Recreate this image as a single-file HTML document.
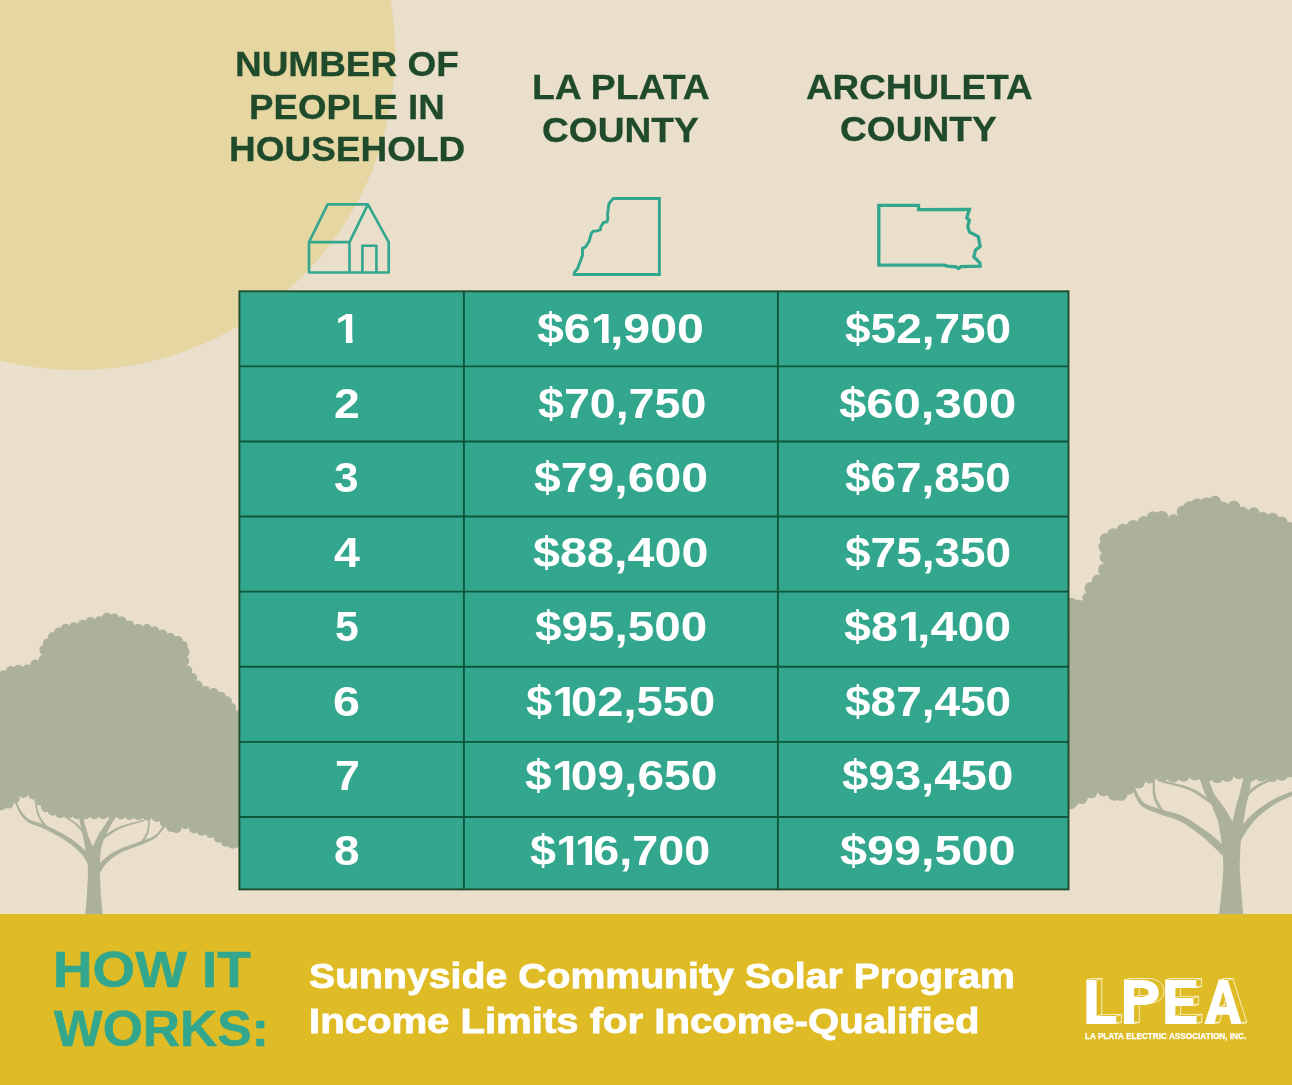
<!DOCTYPE html>
<html><head><meta charset="utf-8"><title>Sunnyside Community Solar Program Income Limits</title>
<style>
html,body{margin:0;padding:0}
body{width:1292px;height:1085px;position:relative;overflow:hidden;background:#e9dfcb;font-family:"Liberation Sans",sans-serif}
svg{position:absolute;left:0;top:0}
.t{position:absolute;font-weight:bold;line-height:1;white-space:pre;transform-origin:0 0;will-change:transform}
.n1{display:inline-block;margin-right:-.158em;clip-path:polygon(0 0,.374em 0,.374em 100%,.2325em 100%,.2325em .715em,0 .715em)}
</style></head><body>
<svg width="1292" height="1085" viewBox="0 0 1292 1085">
<circle cx="77" cy="52" r="318" fill="#e6d6a1"/>
<g fill="#abb19b"><path d="M-4.0,678.2L3.6,675.3L10.7,671.2L18.3,669.8L27.4,669.4L35.4,664.5L43.7,659.6L44.4,650.1L47.9,643.4L52.8,637.2L59.0,632.4L65.8,628.7L74.1,627.3L82.7,624.8L90.6,622.0L99.5,621.3L107.0,617.8L114.2,618.6L121.6,621.4L129.3,625.6L138.0,628.9L146.9,629.0L154.4,631.4L162.4,634.6L170.4,638.0L177.8,641.0L182.7,645.9L184.6,652.1L184.1,660.9L187.2,670.4L192.2,678.0L197.5,685.6L205.1,690.9L213.7,693.1L220.8,696.8L226.9,701.3L231.1,707.9L234.7,715.1L236.2,722.7L236.2,731.0L236.2,739.8L236.2,748.5L236.2,757.3L236.2,766.0L236.2,774.8L236.2,783.5L236.2,792.3L236.2,801.0L236.2,809.8L236.2,818.5L236.2,827.3L236.2,836.0L236.8,842.7L232.5,843.7L226.0,841.7L218.8,837.7L210.8,833.1L201.9,830.7L194.0,828.5L185.1,824.2L176.6,828.1L171.3,827.1L164.9,822.4L156.8,816.9L147.2,815.8L138.4,815.3L129.6,814.9L120.9,814.4L112.0,814.2L103.2,814.2L94.5,814.2L85.7,814.2L77.1,814.2L68.4,813.7L60.2,813.3L52.8,810.7L46.0,807.3L40.8,800.8L33.3,794.4L23.3,792.9L14.8,798.5L8.6,803.6L1.5,805.2L-3.0,805.7L-2.2,799.3L-2.2,790.5L-2.2,781.8L-2.2,773.0L-2.2,764.3L-2.2,755.5L-2.2,746.8L-2.2,738.0L-2.2,729.3L-2.2,720.5L-2.2,711.8L-2.2,703.0L-2.2,694.3L-2.2,685.5L-2.2,676.8Z"/><circle cx="-4.0" cy="678.2" r="5.0"/><circle cx="3.6" cy="675.3" r="5.0"/><circle cx="10.7" cy="671.2" r="5.0"/><circle cx="18.3" cy="669.8" r="5.0"/><circle cx="27.4" cy="669.4" r="5.0"/><circle cx="35.4" cy="664.5" r="5.0"/><circle cx="43.7" cy="659.6" r="5.0"/><circle cx="44.4" cy="650.1" r="5.0"/><circle cx="47.9" cy="643.4" r="5.0"/><circle cx="52.8" cy="637.2" r="5.0"/><circle cx="59.0" cy="632.4" r="5.0"/><circle cx="65.8" cy="628.7" r="5.0"/><circle cx="74.1" cy="627.3" r="5.0"/><circle cx="82.7" cy="624.8" r="5.0"/><circle cx="90.6" cy="622.0" r="5.0"/><circle cx="99.5" cy="621.3" r="5.0"/><circle cx="107.0" cy="617.8" r="5.0"/><circle cx="114.2" cy="618.6" r="5.0"/><circle cx="121.6" cy="621.4" r="5.0"/><circle cx="129.3" cy="625.6" r="5.0"/><circle cx="138.0" cy="628.9" r="5.0"/><circle cx="146.9" cy="629.0" r="5.0"/><circle cx="154.4" cy="631.4" r="5.0"/><circle cx="162.4" cy="634.6" r="5.0"/><circle cx="170.4" cy="638.0" r="5.0"/><circle cx="177.8" cy="641.0" r="5.0"/><circle cx="182.7" cy="645.9" r="5.0"/><circle cx="184.6" cy="652.1" r="5.0"/><circle cx="184.1" cy="660.9" r="5.0"/><circle cx="187.2" cy="670.4" r="5.0"/><circle cx="192.2" cy="678.0" r="5.0"/><circle cx="197.5" cy="685.6" r="5.0"/><circle cx="205.1" cy="690.9" r="5.0"/><circle cx="213.7" cy="693.1" r="5.0"/><circle cx="220.8" cy="696.8" r="5.0"/><circle cx="226.9" cy="701.3" r="5.0"/><circle cx="231.1" cy="707.9" r="5.0"/><circle cx="234.7" cy="715.1" r="5.0"/><circle cx="236.2" cy="722.7" r="5.0"/><circle cx="236.2" cy="731.0" r="5.0"/><circle cx="236.2" cy="739.8" r="5.0"/><circle cx="236.2" cy="748.5" r="5.0"/><circle cx="236.2" cy="757.3" r="5.0"/><circle cx="236.2" cy="766.0" r="5.0"/><circle cx="236.2" cy="774.8" r="5.0"/><circle cx="236.2" cy="783.5" r="5.0"/><circle cx="236.2" cy="792.3" r="5.0"/><circle cx="236.2" cy="801.0" r="5.0"/><circle cx="236.2" cy="809.8" r="5.0"/><circle cx="236.2" cy="818.5" r="5.0"/><circle cx="236.2" cy="827.3" r="5.0"/><circle cx="236.2" cy="836.0" r="5.0"/><circle cx="236.8" cy="842.7" r="5.0"/><circle cx="232.5" cy="843.7" r="5.0"/><circle cx="226.0" cy="841.7" r="5.0"/><circle cx="218.8" cy="837.7" r="5.0"/><circle cx="210.8" cy="833.1" r="5.0"/><circle cx="201.9" cy="830.7" r="5.0"/><circle cx="194.0" cy="828.5" r="5.0"/><circle cx="185.1" cy="824.2" r="5.0"/><circle cx="176.6" cy="828.1" r="5.0"/><circle cx="171.3" cy="827.1" r="5.0"/><circle cx="164.9" cy="822.4" r="5.0"/><circle cx="156.8" cy="816.9" r="5.0"/><circle cx="147.2" cy="815.8" r="5.0"/><circle cx="138.4" cy="815.3" r="5.0"/><circle cx="129.6" cy="814.9" r="5.0"/><circle cx="120.9" cy="814.4" r="5.0"/><circle cx="112.0" cy="814.2" r="5.0"/><circle cx="103.2" cy="814.2" r="5.0"/><circle cx="94.5" cy="814.2" r="5.0"/><circle cx="85.7" cy="814.2" r="5.0"/><circle cx="77.1" cy="814.2" r="5.0"/><circle cx="68.4" cy="813.7" r="5.0"/><circle cx="60.2" cy="813.3" r="5.0"/><circle cx="52.8" cy="810.7" r="5.0"/><circle cx="46.0" cy="807.3" r="5.0"/><circle cx="40.8" cy="800.8" r="5.0"/><circle cx="33.3" cy="794.4" r="5.0"/><circle cx="23.3" cy="792.9" r="5.0"/><circle cx="14.8" cy="798.5" r="5.0"/><circle cx="8.6" cy="803.6" r="5.0"/><circle cx="1.5" cy="805.2" r="5.0"/><circle cx="-3.0" cy="805.7" r="5.0"/><circle cx="-2.2" cy="799.3" r="5.0"/><circle cx="-2.2" cy="790.5" r="5.0"/><circle cx="-2.2" cy="781.8" r="5.0"/><circle cx="-2.2" cy="773.0" r="5.0"/><circle cx="-2.2" cy="764.3" r="5.0"/><circle cx="-2.2" cy="755.5" r="5.0"/><circle cx="-2.2" cy="746.8" r="5.0"/><circle cx="-2.2" cy="738.0" r="5.0"/><circle cx="-2.2" cy="729.3" r="5.0"/><circle cx="-2.2" cy="720.5" r="5.0"/><circle cx="-2.2" cy="711.8" r="5.0"/><circle cx="-2.2" cy="703.0" r="5.0"/><circle cx="-2.2" cy="694.3" r="5.0"/><circle cx="-2.2" cy="685.5" r="5.0"/><circle cx="-2.2" cy="676.8" r="5.0"/><path d="M85.1,915.0L86.6,900.0L88.0,876.0L87.6,862.0L86.5,854.0L84.8,846.0L82.6,834.0L80.2,824.0L78.3,812.0L82.6,812.0L84.8,824.0L88.2,836.0L92.9,846.5L98.2,835.0L105.5,824.0L113.5,812.0L118.5,812.0L110.5,826.0L104.2,838.0L101.2,848.0L100.2,858.0L100.0,876.0L101.2,900.0L102.6,915.0Z"/><path d="M93.6,862.5L93.1,861.8L92.5,860.7L91.8,859.5L91.0,858.0L90.0,856.4L88.8,854.6L87.5,852.9L85.9,851.2L84.3,849.6L82.5,847.9L80.5,846.2L78.5,844.4L76.2,842.6L73.9,840.8L71.5,839.1L68.9,837.4L66.2,835.7L63.3,834.0L60.2,832.4L57.0,830.7L53.9,829.1L50.8,827.6L47.9,826.3L45.3,825.1L42.8,824.1L40.5,823.2L38.3,822.6L36.3,822.0L34.5,821.5L32.8,821.0L31.2,820.4L29.8,819.7L28.5,818.8L27.2,817.9L26.1,817.0L25.1,815.9L24.1,814.8L23.2,813.7L22.3,812.6L21.5,811.4L20.7,810.1L19.9,808.7L19.1,807.1L18.4,805.6L17.7,804.1L17.1,802.7L16.6,801.5L16.2,800.7L14.8,801.3L15.1,802.2L15.5,803.3L16.0,804.8L16.6,806.3L17.2,808.0L17.9,809.6L18.7,811.2L19.5,812.6L20.4,813.9L21.2,815.2L22.1,816.5L23.1,817.7L24.2,818.9L25.4,820.1L26.7,821.2L28.2,822.3L29.9,823.3L31.6,824.0L33.5,824.7L35.3,825.3L37.3,826.0L39.3,826.7L41.5,827.5L43.7,828.5L46.2,829.8L49.0,831.2L52.0,832.8L55.1,834.4L58.1,836.1L61.1,837.8L63.9,839.5L66.5,841.2L68.8,842.9L71.1,844.6L73.2,846.3L75.3,848.1L77.2,849.9L79.0,851.6L80.6,853.2L82.1,854.8L83.3,856.3L84.3,857.8L85.3,859.3L86.1,860.7L86.8,862.1L87.4,863.4L87.9,864.6L88.4,865.5Z"/><path d="M47.5,827.3L46.8,826.4L45.9,825.1L44.8,823.6L43.6,821.9L42.4,820.1L41.2,818.3L40.2,816.4L39.4,814.6L38.7,812.8L38.1,810.6L37.5,808.3L37.1,806.0L36.6,803.8L36.3,801.8L36.0,800.1L35.7,798.9L34.3,799.1L34.5,800.4L34.8,802.1L35.1,804.1L35.4,806.3L35.9,808.7L36.4,811.0L36.9,813.3L37.6,815.4L38.5,817.3L39.5,819.3L40.6,821.2L41.8,823.1L43.0,824.8L44.0,826.4L44.9,827.7L45.5,828.7Z"/><path d="M84.9,832.2L84.3,831.5L83.5,830.6L82.5,829.4L81.4,828.2L80.2,826.9L79.0,825.6L77.8,824.3L76.6,823.3L75.4,822.3L74.1,821.4L72.8,820.6L71.4,819.7L70.2,819.0L69.0,818.4L68.1,817.8L67.4,817.4L66.6,818.6L67.3,819.1L68.2,819.7L69.3,820.4L70.6,821.1L71.8,822.0L73.1,822.9L74.3,823.8L75.4,824.7L76.4,825.7L77.5,826.9L78.6,828.2L79.7,829.6L80.8,830.9L81.7,832.0L82.5,833.0L83.1,833.8Z"/><path d="M103.8,839.2L105.0,838.3L106.6,837.1L108.5,835.7L110.7,834.2L113.0,832.6L115.4,831.1L117.9,829.7L120.4,828.5L123.2,827.4L126.4,826.3L129.8,825.2L133.3,824.2L136.7,823.3L139.7,822.4L142.3,821.7L144.2,821.2L143.8,819.8L141.9,820.3L139.3,820.9L136.2,821.7L132.8,822.5L129.3,823.4L125.8,824.4L122.5,825.5L119.6,826.5L116.9,827.7L114.3,829.1L111.7,830.6L109.3,832.2L107.1,833.6L105.1,835.0L103.5,836.0L102.2,836.8Z"/><path d="M99.2,873.6L99.9,872.7L100.7,871.4L101.6,869.9L102.7,868.3L103.9,866.7L105.1,865.1L106.3,863.6L107.6,862.2L109.0,861.0L110.4,859.7L111.8,858.5L113.3,857.4L115.0,856.2L116.8,855.1L118.7,853.9L120.9,852.8L123.3,851.6L126.1,850.4L129.1,849.2L132.3,848.1L135.4,846.9L138.5,845.8L141.3,844.7L143.8,843.7L145.9,842.8L147.7,842.0L149.4,841.3L151.0,840.6L152.5,839.8L153.9,839.0L155.3,838.1L156.8,836.9L158.2,835.5L159.7,833.8L161.0,832.0L162.4,830.2L163.6,828.4L164.6,826.8L165.5,825.5L166.1,824.5L164.9,823.5L164.1,824.5L163.1,825.8L162.0,827.3L160.7,829.0L159.4,830.8L158.0,832.4L156.6,833.9L155.2,835.1L153.9,836.0L152.6,836.8L151.3,837.4L149.9,838.0L148.4,838.6L146.7,839.2L144.8,839.9L142.6,840.7L140.2,841.6L137.3,842.6L134.3,843.7L131.1,844.7L127.9,845.8L124.7,846.9L121.8,848.1L119.1,849.2L116.8,850.4L114.7,851.5L112.7,852.6L110.9,853.8L109.2,855.0L107.5,856.2L105.9,857.5L104.4,858.8L102.8,860.3L101.3,861.9L99.9,863.6L98.6,865.3L97.4,867.0L96.3,868.4L95.5,869.5L94.8,870.4Z"/><path d="M142.5,843.8L143.0,843.0L143.7,841.8L144.5,840.5L145.4,839.0L146.3,837.3L147.2,835.6L147.9,833.9L148.5,832.3L148.9,830.6L149.2,828.7L149.5,826.8L149.6,824.9L149.7,823.1L149.8,821.4L149.8,820.1L149.9,819.1L148.5,818.9L148.4,820.0L148.3,821.3L148.1,822.9L148.0,824.7L147.7,826.6L147.5,828.4L147.1,830.2L146.7,831.7L146.1,833.2L145.3,834.7L144.5,836.3L143.5,837.9L142.6,839.3L141.7,840.6L141.0,841.7L140.5,842.6Z"/></g>
<g fill="#abb19b"><path d="M1067.2,609.1L1079.0,606.2L1088.8,598.3L1091.0,588.4L1098.2,580.8L1104.5,569.9L1106.1,557.3L1104.9,547.0L1106.2,539.3L1113.4,534.6L1122.9,530.2L1133.2,526.4L1143.9,522.5L1153.1,517.7L1161.9,517.1L1173.8,520.7L1183.1,511.8L1190.0,507.4L1197.4,504.9L1206.7,503.8L1215.0,502.2L1222.7,508.0L1233.8,507.0L1242.3,513.1L1253.6,513.7L1262.8,518.3L1272.7,519.2L1281.4,522.8L1289.1,528.5L1293.0,534.6L1292.8,544.4L1292.8,555.6L1292.8,566.8L1292.8,578.0L1292.8,589.2L1292.8,600.4L1292.8,611.6L1292.8,622.8L1292.8,634.0L1292.8,645.2L1292.8,656.4L1292.8,667.6L1292.8,678.8L1292.8,690.0L1292.8,701.2L1292.8,712.4L1292.8,723.6L1292.8,734.8L1292.8,746.0L1292.8,757.2L1293.0,767.1L1290.3,770.8L1281.8,774.3L1272.2,775.6L1261.4,775.2L1250.7,775.2L1239.1,772.6L1227.4,775.4L1217.2,776.7L1206.8,775.7L1195.2,774.1L1183.7,775.1L1173.2,776.2L1162.1,775.7L1149.8,777.0L1138.6,782.0L1128.6,788.1L1121.0,794.4L1114.1,794.3L1103.6,789.9L1091.1,791.9L1081.4,797.6L1072.3,801.2L1070.4,802.9L1071.2,794.5L1071.2,783.3L1071.2,772.1L1071.2,760.9L1071.2,749.7L1071.2,738.5L1071.2,727.3L1071.2,716.1L1071.2,704.9L1071.2,693.7L1071.2,682.5L1071.2,671.3L1071.2,660.1L1071.2,648.9L1071.2,637.7L1071.2,626.5L1071.2,615.3L1071.2,604.1Z"/><circle cx="1067.2" cy="609.1" r="6.4"/><circle cx="1079.0" cy="606.2" r="6.4"/><circle cx="1088.8" cy="598.3" r="6.4"/><circle cx="1091.0" cy="588.4" r="6.4"/><circle cx="1098.2" cy="580.8" r="6.4"/><circle cx="1104.5" cy="569.9" r="6.4"/><circle cx="1106.1" cy="557.3" r="6.4"/><circle cx="1104.9" cy="547.0" r="6.4"/><circle cx="1106.2" cy="539.3" r="6.4"/><circle cx="1113.4" cy="534.6" r="6.4"/><circle cx="1122.9" cy="530.2" r="6.4"/><circle cx="1133.2" cy="526.4" r="6.4"/><circle cx="1143.9" cy="522.5" r="6.4"/><circle cx="1153.1" cy="517.7" r="6.4"/><circle cx="1161.9" cy="517.1" r="6.4"/><circle cx="1173.8" cy="520.7" r="6.4"/><circle cx="1183.1" cy="511.8" r="6.4"/><circle cx="1190.0" cy="507.4" r="6.4"/><circle cx="1197.4" cy="504.9" r="6.4"/><circle cx="1206.7" cy="503.8" r="6.4"/><circle cx="1215.0" cy="502.2" r="6.4"/><circle cx="1222.7" cy="508.0" r="6.4"/><circle cx="1233.8" cy="507.0" r="6.4"/><circle cx="1242.3" cy="513.1" r="6.4"/><circle cx="1253.6" cy="513.7" r="6.4"/><circle cx="1262.8" cy="518.3" r="6.4"/><circle cx="1272.7" cy="519.2" r="6.4"/><circle cx="1281.4" cy="522.8" r="6.4"/><circle cx="1289.1" cy="528.5" r="6.4"/><circle cx="1293.0" cy="534.6" r="6.4"/><circle cx="1292.8" cy="544.4" r="6.4"/><circle cx="1292.8" cy="555.6" r="6.4"/><circle cx="1292.8" cy="566.8" r="6.4"/><circle cx="1292.8" cy="578.0" r="6.4"/><circle cx="1292.8" cy="589.2" r="6.4"/><circle cx="1292.8" cy="600.4" r="6.4"/><circle cx="1292.8" cy="611.6" r="6.4"/><circle cx="1292.8" cy="622.8" r="6.4"/><circle cx="1292.8" cy="634.0" r="6.4"/><circle cx="1292.8" cy="645.2" r="6.4"/><circle cx="1292.8" cy="656.4" r="6.4"/><circle cx="1292.8" cy="667.6" r="6.4"/><circle cx="1292.8" cy="678.8" r="6.4"/><circle cx="1292.8" cy="690.0" r="6.4"/><circle cx="1292.8" cy="701.2" r="6.4"/><circle cx="1292.8" cy="712.4" r="6.4"/><circle cx="1292.8" cy="723.6" r="6.4"/><circle cx="1292.8" cy="734.8" r="6.4"/><circle cx="1292.8" cy="746.0" r="6.4"/><circle cx="1292.8" cy="757.2" r="6.4"/><circle cx="1293.0" cy="767.1" r="6.4"/><circle cx="1290.3" cy="770.8" r="6.4"/><circle cx="1281.8" cy="774.3" r="6.4"/><circle cx="1272.2" cy="775.6" r="6.4"/><circle cx="1261.4" cy="775.2" r="6.4"/><circle cx="1250.7" cy="775.2" r="6.4"/><circle cx="1239.1" cy="772.6" r="6.4"/><circle cx="1227.4" cy="775.4" r="6.4"/><circle cx="1217.2" cy="776.7" r="6.4"/><circle cx="1206.8" cy="775.7" r="6.4"/><circle cx="1195.2" cy="774.1" r="6.4"/><circle cx="1183.7" cy="775.1" r="6.4"/><circle cx="1173.2" cy="776.2" r="6.4"/><circle cx="1162.1" cy="775.7" r="6.4"/><circle cx="1149.8" cy="777.0" r="6.4"/><circle cx="1138.6" cy="782.0" r="6.4"/><circle cx="1128.6" cy="788.1" r="6.4"/><circle cx="1121.0" cy="794.4" r="6.4"/><circle cx="1114.1" cy="794.3" r="6.4"/><circle cx="1103.6" cy="789.9" r="6.4"/><circle cx="1091.1" cy="791.9" r="6.4"/><circle cx="1081.4" cy="797.6" r="6.4"/><circle cx="1072.3" cy="801.2" r="6.4"/><circle cx="1070.4" cy="802.9" r="6.4"/><circle cx="1071.2" cy="794.5" r="6.4"/><circle cx="1071.2" cy="783.3" r="6.4"/><circle cx="1071.2" cy="772.1" r="6.4"/><circle cx="1071.2" cy="760.9" r="6.4"/><circle cx="1071.2" cy="749.7" r="6.4"/><circle cx="1071.2" cy="738.5" r="6.4"/><circle cx="1071.2" cy="727.3" r="6.4"/><circle cx="1071.2" cy="716.1" r="6.4"/><circle cx="1071.2" cy="704.9" r="6.4"/><circle cx="1071.2" cy="693.7" r="6.4"/><circle cx="1071.2" cy="682.5" r="6.4"/><circle cx="1071.2" cy="671.3" r="6.4"/><circle cx="1071.2" cy="660.1" r="6.4"/><circle cx="1071.2" cy="648.9" r="6.4"/><circle cx="1071.2" cy="637.7" r="6.4"/><circle cx="1071.2" cy="626.5" r="6.4"/><circle cx="1071.2" cy="615.3" r="6.4"/><circle cx="1071.2" cy="604.1" r="6.4"/><path d="M1218.9,915.0L1220.7,900.0L1222.6,880.0L1223.4,866.0L1222.6,852.0L1221.0,838.0L1218.0,821.0L1210.8,802.8L1205.0,793.9L1198.0,774.0L1206.4,774.0L1214.0,793.9L1220.7,802.8L1226.5,811.0L1232.4,821.5L1235.0,811.0L1236.9,802.8L1239.6,793.9L1244.4,774.0L1252.4,774.0L1249.0,793.9L1246.7,802.8L1243.6,821.0L1240.8,840.0L1239.6,866.0L1240.4,880.0L1241.9,900.0L1243.2,915.0Z"/><path d="M1230.9,851.9L1229.8,850.9L1228.2,849.5L1226.4,847.9L1224.4,846.1L1222.3,844.2L1220.2,842.4L1218.3,840.6L1216.6,839.2L1215.1,838.0L1213.9,836.9L1212.8,836.0L1211.7,835.1L1210.5,834.1L1209.1,833.1L1207.6,832.0L1205.7,830.7L1203.5,829.1L1201.0,827.4L1198.3,825.5L1195.4,823.5L1192.4,821.5L1189.4,819.6L1186.4,817.9L1183.4,816.4L1180.5,815.1L1177.6,814.0L1174.6,813.1L1171.8,812.3L1169.0,811.5L1166.3,810.9L1163.8,810.2L1161.4,809.4L1159.0,808.7L1156.7,808.0L1154.5,807.3L1152.4,806.6L1150.4,806.0L1148.6,805.3L1147.0,804.6L1145.5,803.8L1144.3,802.9L1143.3,802.0L1142.3,801.1L1141.5,800.0L1140.7,798.9L1140.0,797.8L1139.2,796.5L1138.4,795.2L1137.7,793.9L1137.0,792.3L1136.3,790.6L1135.6,788.9L1135.0,787.3L1134.5,785.8L1134.0,784.5L1133.6,783.6L1131.4,784.4L1131.6,785.3L1132.0,786.6L1132.4,788.2L1132.9,789.9L1133.5,791.7L1134.1,793.5L1134.8,795.2L1135.6,796.8L1136.2,798.1L1136.9,799.5L1137.6,800.8L1138.5,802.2L1139.4,803.5L1140.5,804.8L1141.8,806.0L1143.3,807.2L1145.0,808.3L1146.8,809.3L1148.8,810.1L1150.9,811.0L1153.0,811.7L1155.2,812.5L1157.5,813.3L1159.8,814.2L1162.3,815.1L1164.9,815.9L1167.5,816.7L1170.2,817.5L1173.0,818.4L1175.6,819.3L1178.2,820.4L1180.8,821.6L1183.4,823.1L1186.1,824.8L1189.0,826.7L1191.8,828.7L1194.6,830.7L1197.2,832.7L1199.6,834.5L1201.7,836.1L1203.4,837.5L1204.8,838.6L1206.0,839.6L1207.0,840.5L1207.9,841.4L1208.9,842.4L1210.1,843.5L1211.4,844.8L1213.1,846.4L1214.9,848.1L1216.9,850.0L1218.9,852.0L1220.8,853.9L1222.6,855.6L1224.0,857.0L1225.1,858.1Z"/><path d="M1164.4,811.8L1163.7,810.7L1162.7,809.2L1161.6,807.5L1160.3,805.6L1159.1,803.6L1158.0,801.5L1157.0,799.5L1156.2,797.6L1155.7,795.6L1155.4,793.4L1155.1,791.0L1154.9,788.5L1154.8,786.2L1154.8,784.1L1154.7,782.3L1154.6,781.0L1152.6,781.0L1152.6,782.4L1152.6,784.1L1152.6,786.3L1152.7,788.6L1152.7,791.1L1152.9,793.7L1153.3,796.1L1153.8,798.4L1154.5,800.6L1155.5,802.8L1156.6,805.0L1157.8,807.1L1159.0,809.1L1160.1,810.9L1161.0,812.3L1161.6,813.4Z"/><path d="M1213.9,802.1L1212.2,801.0L1209.9,799.4L1207.2,797.5L1204.1,795.5L1200.8,793.3L1197.4,791.2L1193.9,789.3L1190.5,787.8L1187.0,786.4L1183.1,785.2L1178.9,784.2L1174.8,783.2L1170.9,782.4L1167.4,781.6L1164.4,781.0L1162.2,780.5L1161.8,782.5L1164.0,783.0L1166.9,783.7L1170.4,784.6L1174.3,785.5L1178.3,786.5L1182.3,787.7L1186.1,788.9L1189.5,790.2L1192.6,791.8L1195.9,793.7L1199.2,795.8L1202.4,798.0L1205.4,800.1L1208.1,802.0L1210.3,803.7L1212.1,804.9Z"/><path d="M1245.7,798.3L1246.6,797.5L1247.6,796.4L1248.9,795.1L1250.3,793.7L1251.9,792.2L1253.5,790.8L1255.1,789.4L1256.8,788.2L1258.6,787.0L1260.7,785.8L1262.9,784.6L1265.2,783.5L1267.5,782.4L1269.5,781.4L1271.2,780.6L1272.4,779.9L1271.6,778.1L1270.3,778.7L1268.6,779.4L1266.5,780.3L1264.2,781.3L1261.8,782.4L1259.5,783.5L1257.2,784.7L1255.2,785.8L1253.4,787.1L1251.6,788.4L1249.8,789.9L1248.2,791.3L1246.6,792.7L1245.3,793.9L1244.2,794.9L1243.3,795.7Z"/><path d="M1239.1,843.0L1239.9,841.8L1240.8,840.2L1242.0,838.3L1243.2,836.2L1244.6,834.0L1246.0,831.9L1247.3,829.8L1248.6,828.0L1249.9,826.4L1251.1,824.8L1252.3,823.2L1253.5,821.7L1254.8,820.3L1256.2,818.8L1257.7,817.3L1259.4,815.8L1261.2,814.2L1263.2,812.6L1265.2,810.9L1267.4,809.3L1269.7,807.7L1272.0,806.1L1274.3,804.6L1276.7,803.1L1279.2,801.7L1282.1,800.3L1285.2,798.9L1288.2,797.5L1291.2,796.2L1293.9,795.1L1296.1,794.1L1297.8,793.3L1296.2,789.7L1294.5,790.3L1292.3,791.2L1289.5,792.2L1286.5,793.4L1283.3,794.7L1280.2,796.1L1277.1,797.5L1274.3,798.9L1271.8,800.3L1269.2,801.8L1266.8,803.3L1264.3,805.0L1262.0,806.6L1259.8,808.2L1257.6,809.8L1255.6,811.4L1253.8,813.0L1252.1,814.5L1250.5,816.0L1249.0,817.6L1247.5,819.1L1246.1,820.7L1244.8,822.3L1243.4,824.0L1241.9,825.9L1240.3,828.0L1238.8,830.2L1237.3,832.4L1235.9,834.4L1234.7,836.3L1233.6,837.8L1232.9,839.0Z"/></g>
<rect x="239.4" y="291.3" width="829.1" height="598.0999999999999" fill="#32a78d"/><g stroke="#0d573a" stroke-width="1.9" fill="none"><line x1="239.4" y1="366.39" x2="1068.5" y2="366.39"/><line x1="239.4" y1="441.48" x2="1068.5" y2="441.48"/><line x1="239.4" y1="516.57" x2="1068.5" y2="516.57"/><line x1="239.4" y1="591.66" x2="1068.5" y2="591.66"/><line x1="239.4" y1="666.75" x2="1068.5" y2="666.75"/><line x1="239.4" y1="741.84" x2="1068.5" y2="741.84"/><line x1="239.4" y1="816.93" x2="1068.5" y2="816.93"/><line x1="463.9" y1="291.3" x2="463.9" y2="889.4"/><line x1="777.9" y1="291.3" x2="777.9" y2="889.4"/></g><rect x="239.4" y="291.3" width="829.1" height="598.0999999999999" fill="none" stroke="#1d4d2c" stroke-width="1.9"/>
<g fill="none" stroke="#32a78d" stroke-width="2.6" stroke-linejoin="round" stroke-linecap="round"><path d="M309,272.5 V242.1 L327.6,204.4 H367.9 L388.7,242.1 V272.5 Z M309,242.1 H349.5 M349.5,272.5 V242.1 L367.9,204.4 M362.4,272.5 V245.8 H376.4 V272.5"/><path stroke-width="2.9" stroke-linejoin="miter" d="M613.2,198.5L659.4,198.5L659.4,274.5L574.2,274.5L574.4,272.3L577.3,269.0L579.9,262.4L582.5,255.4L582.5,248.4L585.6,246.8L589.1,241.4L591.3,233.5L593.0,231.3L597.4,230.9L600.5,229.6L600.9,226.5L603.5,222.6L607.0,221.7L607.9,217.8L607.5,214.3L608.3,209.0L608.8,204.2L610.5,201.6Z"/><path stroke-width="3.3" stroke-linejoin="miter" d="M878.8,205.4L918.5,205.4L918.5,209.7L969.4,209.5L966.7,217.7L969.4,220.2L967.7,226.4L969.6,232.2L978.3,236.6L980.2,246.3L975.4,250.1L973.9,256.9L979.7,262.7L980.2,266.1L960.9,266.6L958.5,268.5L956.0,266.8L947.3,266.1L944.4,265.1L878.8,265.1Z"/></g>
<rect x="0" y="914" width="1292" height="171" fill="#dfbc26"/>
<g fill="none" stroke="#fff" stroke-width="0.7"><g transform="translate(5.2,-1.6)"><g transform="translate(1086.4,1023.9)">
<g id="lp" >
<path d="M0,0V-43.8H10.2V-7.8H29.8V0Z"/>
<path d="M37.5,0V-43.8H56C66,-43.8 72.4,-38.6 72.4,-31.2C72.4,-23.6 65.8,-18.8 55.6,-18.8H47.7V0Z M47.7,-35.8V-26.8H55C59.6,-26.8 62.2,-28.4 62.2,-31.3C62.2,-34.2 59.6,-35.8 55,-35.8Z" fill-rule="evenodd"/>
<path d="M78.8,0V-43.8H109.8V-35.8H89V-26H107V-18H89V-8H110.2V0Z"/>
<path d="M118,0L132.3,-43.8H141.3L155.2,0H145L142.6,-9.2H130.4L128,0Z M132.4,-17.2H140.8L136.7,-32.4Z" fill-rule="evenodd"/>
</g></g></g><path transform="translate(1086.4,1023.9)" d="M0,0l5.2,-1.6M0,-43.8l5.2,-1.6M10.2,-43.8l5.2,-1.6M10.2,-7.8l5.2,-1.6M29.8,-7.8l5.2,-1.6M29.8,0l5.2,-1.6M37.5,0l5.2,-1.6M37.5,-43.8l5.2,-1.6M47.7,0l5.2,-1.6M47.7,-18.8l5.2,-1.6M47.7,-35.8l5.2,-1.6M47.7,-26.8l5.2,-1.6M78.8,0l5.2,-1.6M78.8,-43.8l5.2,-1.6M109.8,-43.8l5.2,-1.6M109.8,-35.8l5.2,-1.6M89,-35.8l5.2,-1.6M89,-26l5.2,-1.6M107,-26l5.2,-1.6M107,-18l5.2,-1.6M89,-18l5.2,-1.6M89,-8l5.2,-1.6M110.2,-8l5.2,-1.6M110.2,0l5.2,-1.6M118,0l5.2,-1.6M132.3,-43.8l5.2,-1.6M141.3,-43.8l5.2,-1.6M155.2,0l5.2,-1.6M145,0l5.2,-1.6M142.6,-9.2l5.2,-1.6M130.4,-9.2l5.2,-1.6M128,0l5.2,-1.6M132.4,-17.2l5.2,-1.6M140.8,-17.2l5.2,-1.6M136.7,-32.4l5.2,-1.6"/></g><g fill="#fff"><g transform="translate(1086.4,1023.9)">
<g id="lp" >
<path d="M0,0V-43.8H10.2V-7.8H29.8V0Z"/>
<path d="M37.5,0V-43.8H56C66,-43.8 72.4,-38.6 72.4,-31.2C72.4,-23.6 65.8,-18.8 55.6,-18.8H47.7V0Z M47.7,-35.8V-26.8H55C59.6,-26.8 62.2,-28.4 62.2,-31.3C62.2,-34.2 59.6,-35.8 55,-35.8Z" fill-rule="evenodd"/>
<path d="M78.8,0V-43.8H109.8V-35.8H89V-26H107V-18H89V-8H110.2V0Z"/>
<path d="M118,0L132.3,-43.8H141.3L155.2,0H145L142.6,-9.2H130.4L128,0Z M132.4,-17.2H140.8L136.7,-32.4Z" fill-rule="evenodd"/>
</g></g></g>
</svg>
<div class="t" style="left:234.86px;top:46.94px;font-size:34.93px;color:#1f4a2b;-webkit-text-stroke:0.3px #1f4a2b;transform:scaleX(1.0581)">NUMBER OF</div>
<div class="t" style="left:248.97px;top:89.86px;font-size:34.78px;color:#1f4a2b;-webkit-text-stroke:0.3px #1f4a2b;transform:scaleX(1.0554)">PEOPLE IN</div>
<div class="t" style="left:228.76px;top:132.04px;font-size:34.93px;color:#1f4a2b;-webkit-text-stroke:0.3px #1f4a2b;transform:scaleX(1.0585)">HOUSEHOLD</div>
<div class="t" style="left:531.53px;top:69.20px;font-size:35.33px;color:#1f4a2b;-webkit-text-stroke:0.3px #1f4a2b;transform:scaleX(1.0569)">LA PLATA</div>
<div class="t" style="left:541.97px;top:113.04px;font-size:34.93px;color:#1f4a2b;-webkit-text-stroke:0.3px #1f4a2b;transform:scaleX(1.0626)">COUNTY</div>
<div class="t" style="left:805.74px;top:69.54px;font-size:34.93px;color:#1f4a2b;-webkit-text-stroke:0.3px #1f4a2b;transform:scaleX(1.0554)">ARCHULETA</div>
<div class="t" style="left:839.97px;top:112.34px;font-size:34.93px;color:#1f4a2b;-webkit-text-stroke:0.3px #1f4a2b;transform:scaleX(1.0633)">COUNTY</div>
<div class="t" style="left:334.72px;top:307.67px;font-size:41.81px;color:#fff;transform:scaleX(1.1213)"><span class="n1">1</span></div>
<div class="t" style="left:537.48px;top:307.67px;font-size:41.81px;color:#fff;transform:scaleX(1.1550)">$6<span class="n1">1</span>,900</div>
<div class="t" style="left:845.21px;top:307.67px;font-size:41.81px;color:#fff;transform:scaleX(1.0998)">$52,750</div>
<div class="t" style="left:333.88px;top:382.72px;font-size:41.81px;color:#fff;transform:scaleX(1.1062)">2</div>
<div class="t" style="left:537.50px;top:382.72px;font-size:41.81px;color:#fff;transform:scaleX(1.1139)">$70,750</div>
<div class="t" style="left:839.16px;top:382.72px;font-size:41.81px;color:#fff;transform:scaleX(1.1737)">$60,300</div>
<div class="t" style="left:334.39px;top:456.77px;font-size:41.81px;color:#fff;transform:scaleX(1.0581)">3</div>
<div class="t" style="left:533.88px;top:456.77px;font-size:41.81px;color:#fff;transform:scaleX(1.1515)">$79,600</div>
<div class="t" style="left:845.21px;top:456.77px;font-size:41.81px;color:#fff;transform:scaleX(1.0964)">$67,850</div>
<div class="t" style="left:333.50px;top:531.88px;font-size:42.01px;color:#fff;transform:scaleX(1.1034)">4</div>
<div class="t" style="left:533.27px;top:532.04px;font-size:41.81px;color:#fff;transform:scaleX(1.1609)">$88,400</div>
<div class="t" style="left:845.21px;top:532.04px;font-size:41.81px;color:#fff;transform:scaleX(1.0998)">$75,350</div>
<div class="t" style="left:334.82px;top:605.87px;font-size:41.81px;color:#fff;transform:scaleX(1.0189)">5</div>
<div class="t" style="left:534.68px;top:605.87px;font-size:41.81px;color:#fff;transform:scaleX(1.1401)">$95,500</div>
<div class="t" style="left:844.37px;top:605.87px;font-size:41.81px;color:#fff;transform:scaleX(1.1572)">$8<span class="n1">1</span>,400</div>
<div class="t" style="left:333.00px;top:681.24px;font-size:41.81px;color:#fff;transform:scaleX(1.1589)">6</div>
<div class="t" style="left:526.09px;top:681.24px;font-size:41.81px;color:#fff;transform:scaleX(1.1284)">$<span class="n1">1</span>02,550</div>
<div class="t" style="left:845.21px;top:681.24px;font-size:41.81px;color:#fff;transform:scaleX(1.0998)">$87,450</div>
<div class="t" style="left:334.59px;top:755.47px;font-size:41.81px;color:#fff;transform:scaleX(1.0698)">7</div>
<div class="t" style="left:524.68px;top:755.47px;font-size:41.81px;color:#fff;transform:scaleX(1.1472)">$<span class="n1">1</span>09,650</div>
<div class="t" style="left:841.89px;top:755.47px;font-size:41.81px;color:#fff;transform:scaleX(1.1334)">$93,450</div>
<div class="t" style="left:334.12px;top:829.52px;font-size:41.81px;color:#fff;transform:scaleX(1.0968)">8</div>
<div class="t" style="left:530.30px;top:829.52px;font-size:41.81px;color:#fff;transform:scaleX(1.1184)">$<span class="n1">1</span><span class="n1">1</span>6,700</div>
<div class="t" style="left:840.27px;top:829.52px;font-size:41.81px;color:#fff;transform:scaleX(1.1622)">$99,500</div>
<div class="t" style="left:52.87px;top:945.00px;font-size:50.00px;color:#32a78d;-webkit-text-stroke:0.6px #32a78d;transform:scaleX(1.0950)">HOW IT</div>
<div class="t" style="left:54.01px;top:1004.43px;font-size:50.14px;color:#32a78d;-webkit-text-stroke:0.6px #32a78d;transform:scaleX(1.0294)">WORKS:</div>
<div class="t" style="left:309.17px;top:958.79px;font-size:34.93px;color:#fff;-webkit-text-stroke:0.8px #fff;transform:scaleX(1.1227)">Sunnyside Community Solar Program</div>
<div class="t" style="left:309.45px;top:1003.69px;font-size:34.93px;color:#fff;-webkit-text-stroke:0.8px #fff;transform:scaleX(1.1480)">Income Limits for Income-Qualified</div>
<div class="t" style="left:1085.09px;top:1033.40px;font-size:8.15px;color:#fff;-webkit-text-stroke:0.25px #fff;transform:scaleX(1.0086)">LA PLATA ELECTRIC ASSOCIATION, INC.</div>
</body></html>
